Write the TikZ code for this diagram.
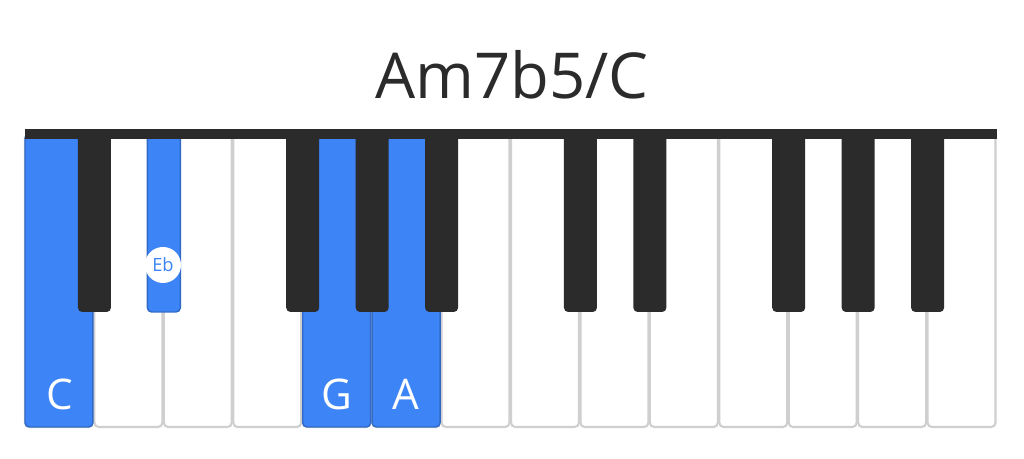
\documentclass[tikz,border=0pt]{standalone}
\usepackage{fontspec}
\setmainfont{Open Sans}
\definecolor{keyblue}{HTML}{3D84F7}
\definecolor{keyblack}{HTML}{2B2B2B}
\definecolor{keyedge}{HTML}{CFCFCF}
\tikzset{>=latex}

\begin{document}
\begin{tikzpicture}[x=0.01cm, y=-0.01cm,
  whitekey/.style = {draw = keyedge, line width = 0.6pt, fill = white, rounded corners = 1.2pt},
  bluekey/.style = {draw = keyblue!80!black, line width = 0.4pt, fill = keyblue, rounded corners = 1.2pt},
  blackkey/.style = {fill = keyblack, rounded corners = 1.2pt},
  notename/.style = {text = white, font = \fontsize{12}{12}\selectfont, anchor = base}]

\useasboundingbox (0, 0) rectangle (1024, 459);

\node [text = keyblack] (title) at (512, 75) {\fontsize{18}{18}\selectfont Am7b5/C};

% white keys
\foreach \i in {0,...,13}{\path [whitekey] ({25+\i*69.43}, 134) rectangle ({25+(\i+1)*69.43-1.5}, 427);}
\foreach \i in {0, 4, 5}{\path [bluekey] ({25+\i*69.43}, 134) rectangle ({25+(\i+1)*69.43-1.5}, 427);}

% black keys
\foreach \b in {1, 4, 5, 6, 8, 9, 11, 12, 13}{\path [blackkey] ({25+\b*69.43-16.5}, 134) rectangle ({25+\b*69.43+16.5}, 312);}
\path [bluekey] ({25+2*69.43-16.5}, 134) rectangle ({25+2*69.43+16.5}, 312);

% top bar
\fill [keyblack] (25, 129) rectangle (997, 139);

\node [notename] (c) at (60, 410) {C};
\node [notename] (g) at (337, 410) {G};
\node [notename] (a) at (406, 410) {A};
\node [circle, fill = white, inner sep = 0pt, minimum size = 0.36cm, text = keyblue, font = \fontsize{5.2}{5.2}\selectfont] (eb) at (163, 265) {Eb};

\end{tikzpicture}
\end{document}
